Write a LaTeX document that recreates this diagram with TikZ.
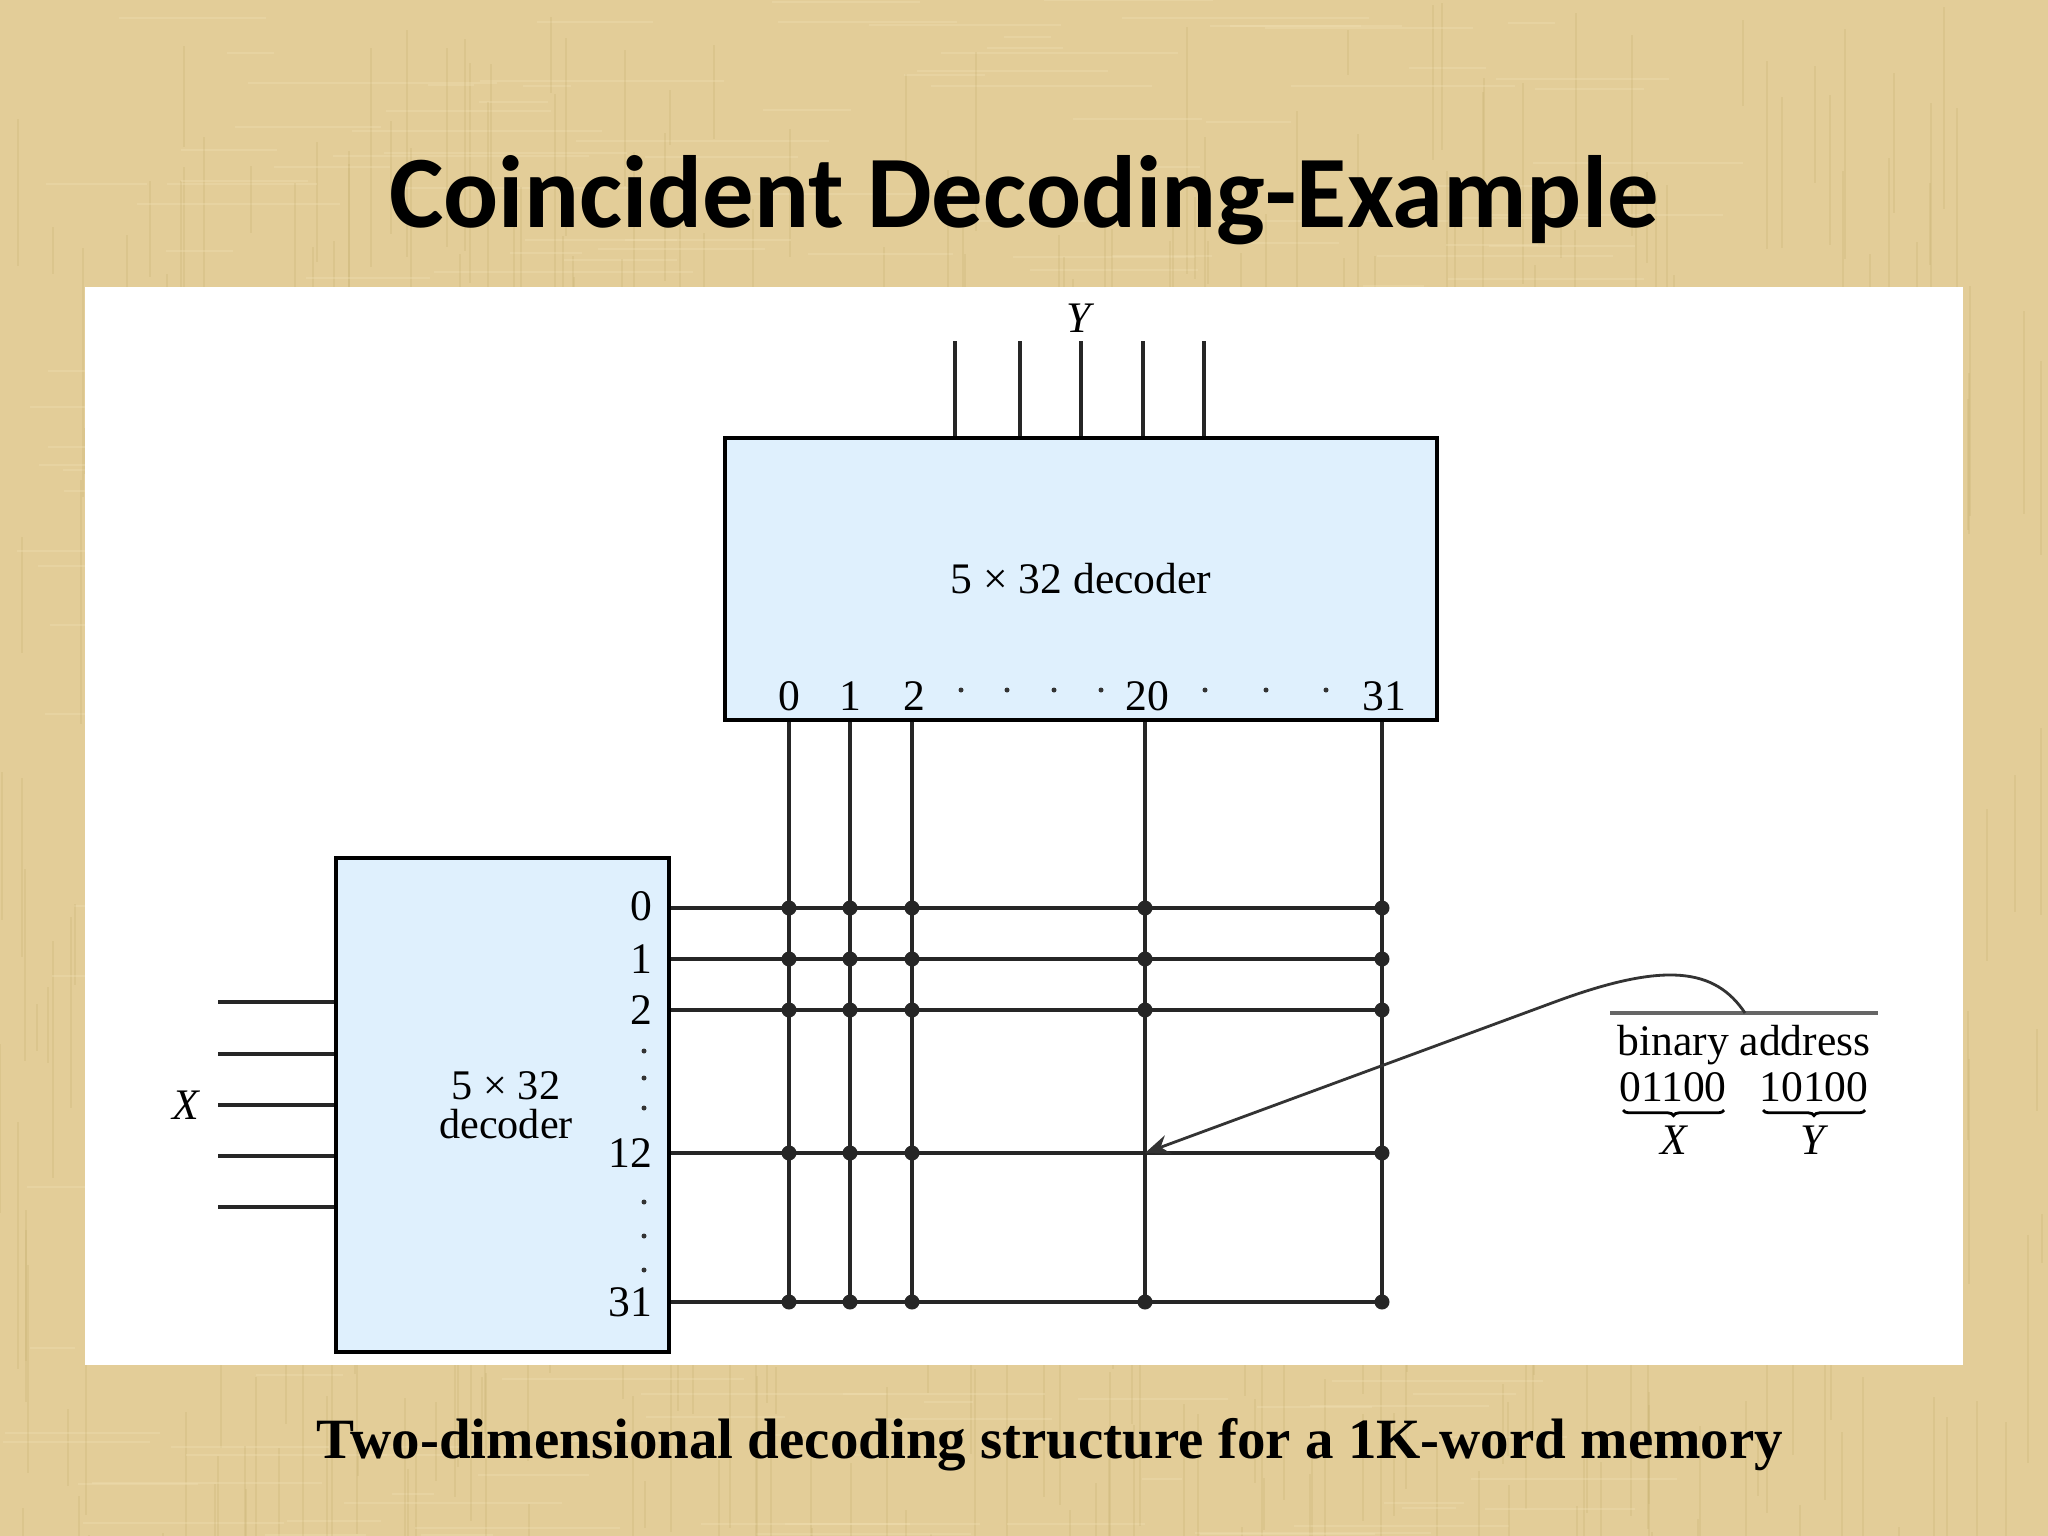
\documentclass[tikz,border=0pt]{standalone}
\usepackage{fontspec}
\setmainfont{Liberation Serif}
\newfontfamily\titlefont{Carlito}
\usetikzlibrary{arrows.meta,decorations.pathreplacing}
\definecolor{papertan}{HTML}{E3CD98}
\definecolor{weavedark}{HTML}{BFA765}
\definecolor{weavelight}{HTML}{F1E0B4}
\definecolor{boxblue}{HTML}{DFF0FD}
\begin{document}
\begin{tikzpicture}[x=0.01cm,y=-0.01cm,font=\fontsize{12.4}{14}\selectfont,
  decoder/.style={draw,line width=1.2pt,fill=boxblue,inner sep=0pt},
  wire/.style={line width=1pt,black!85},
  tap/.style={circle,fill=black!85,inner sep=0pt,minimum size=0.15cm},
  tick/.style={circle,fill=black!80,inner sep=0pt,minimum size=0.05cm},
  bitbrace/.style={line width=0.8pt,decorate,decoration={brace,mirror,amplitude=1.6pt}}]

\useasboundingbox (0,0) rectangle (2048,1536);

% slide background
\fill[papertan] (0,0) rectangle (2048,1536);
\begin{scope}
\clip (0,0) rectangle (2048,1536);
\pgfmathsetseed{11}
\foreach \i in {1,...,520} {
  \pgfmathsetmacro{\px}{random(0,2048)}
  \pgfmathsetmacro{\py}{random(0,1536)}
  \pgfmathsetmacro{\pl}{random(40,260)}
  \draw[weavedark,opacity=0.2,line width=0.8pt] (\px,\py) -- ++(0,\pl);
  \draw[weavelight,opacity=0.35,line width=0.8pt] (\py,\px) -- ++(\pl,0);
}
\end{scope}
\fill[white] (85,287) rectangle (1963,1365);

\node[font=\titlefont\bfseries\fontsize{29.2}{32}\selectfont] (title) at (1024,200) {Coincident Decoding-Example};
\node[font=\bfseries\fontsize{16.2}{19}\selectfont] (caption) at (1050,1445) {Two-dimensional decoding structure for a 1K-word memory};

% decoders
\node[decoder,minimum width=7.12cm,minimum height=2.82cm] (ydec) at (1081,579) {5 × 32 decoder};
\node[decoder,minimum width=3.33cm,minimum height=4.94cm] (xdec) at (502.5,1105) {};
\node[align=center,font=\fontsize{12}{11.2}\selectfont] (xname) at (506,1105) {5 × 32\\decoder};

% address lines
\node (ylab) at (1081,318) {\textit{Y}};
\node (xlab) at (187,1105) {\textit{X}};
\foreach \n/\x in {0/955,1/1020,2/1081,3/1143,4/1204} {
  \coordinate (yt\n) at (\x,341);
  \draw[wire] (yt\n) -- (yt\n |- ydec.north);
}
\foreach \n/\y in {0/1002,1/1054,2/1105,3/1156,4/1207} {
  \coordinate (xt\n) at (218,\y);
  \draw[wire] (xt\n) -- (xt\n -| xdec.west);
}

% output labels
\foreach \t/\x in {0/789,1/850,2/914,20/1147,31/1384}
  \node (yl\t) at (\x,696) {\t};
\foreach \t/\y in {0/906,1/959,2/1010,12/1153,31/1302}
  \node[anchor=east] (xl\t) at (665,\y) {\t};
\foreach \x in {961,1007,1054,1101,1205,1266,1326}
  \node[tick] at (\x,690) {};
\foreach \y in {1051,1078,1108,1202,1236,1270}
  \node[tick] at (644,\y) {};

% grid
\foreach \n/\x in {0/789,1/850,2/912,20/1145,31/1382}
  \coordinate (c\n) at (\x,1302);
\foreach \n/\y in {0/908,1/959,2/1010,12/1153,31/1302}
  \coordinate (r\n) at (1384,\y);
\foreach \n in {0,1,2,20,31}
  \draw[wire] (c\n |- ydec.south) -- (c\n);
\foreach \n in {0,1,2,12,31}
  \draw[wire] (r\n -| xdec.east) -- (r\n);
\foreach \n in {0,1,2,20,31}
  \foreach \m in {0,1,2,12,31} {
    \ifnum\n\m=2012\else
      \node[tap] at (c\n |- r\m) {};
    \fi
  }

% binary address note
\node (bin) at (1744,1045) {binary address};
\node (xbits) at (1673,1087) {01100};
\node (ybits) at (1814,1087) {10100};
\node (xword) at (1675,1140) {\textit{X}};
\node (yword) at (1815,1140) {\textit{Y}};
\coordinate (al) at (1610,1013);
\coordinate (ar) at (1878,1013);
\coordinate (am) at (1745,1013);
\draw[line width=1.3pt,black!60] (al) -- (ar);
\coordinate (xbl) at (1623,1110);
\coordinate (xbr) at (1724,1110);
\coordinate (ybl) at (1763,1110);
\coordinate (ybr) at (1865,1110);
\draw[bitbrace] (xbl) -- (xbr);
\draw[bitbrace] (ybl) -- (ybr);
\coordinate (hit) at (c20 |- r12);
\draw[line width=0.8pt,black!80,-{Stealth[length=7pt,width=5.5pt]}] (am) .. controls (1715,968) and (1665,962) .. (1560,1000) -- (hit);

\end{tikzpicture}
\end{document}
